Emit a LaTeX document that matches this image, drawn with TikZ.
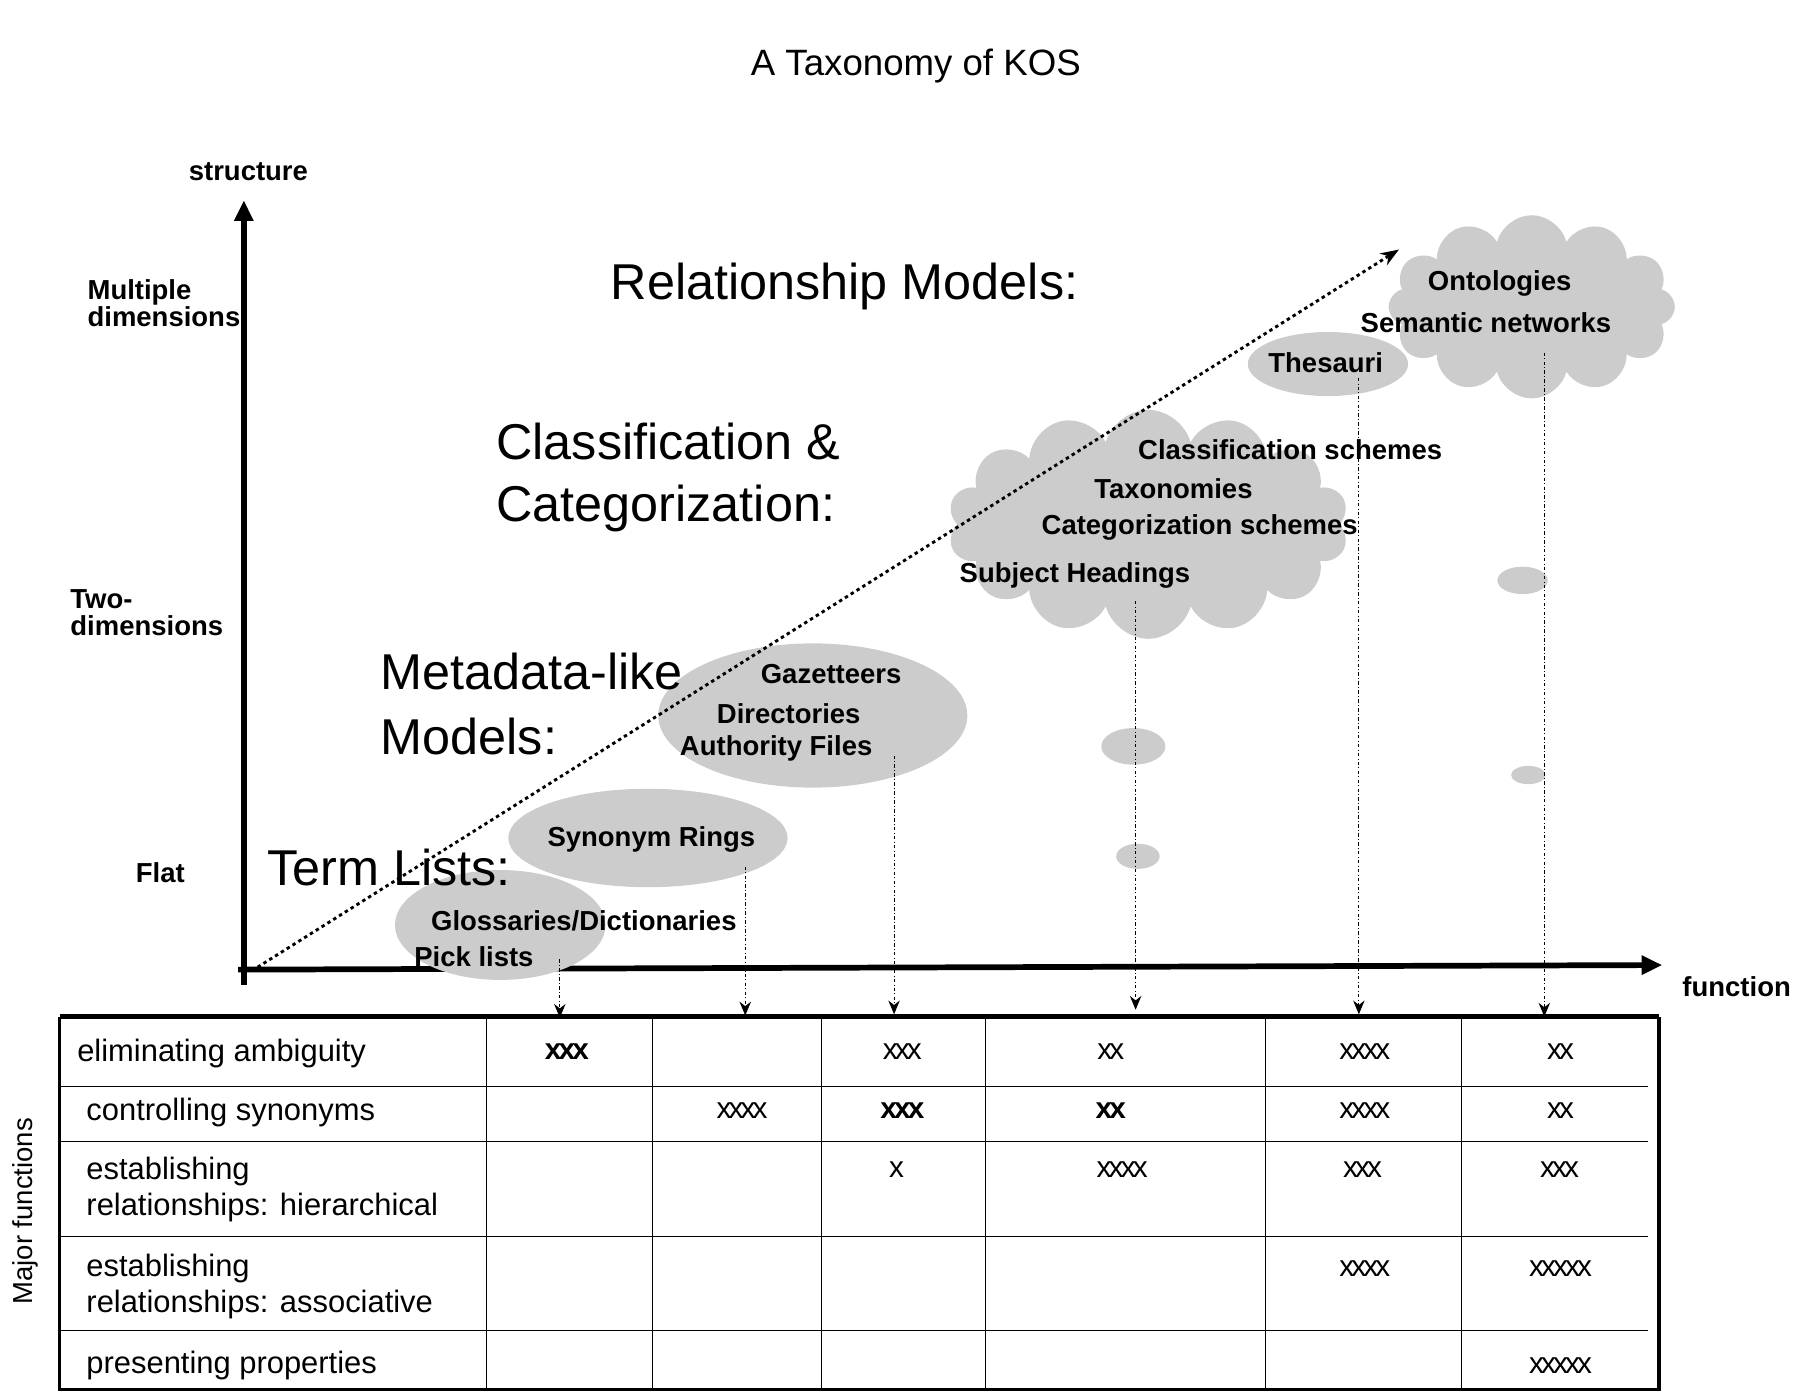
\documentclass[tikz,border=0pt]{standalone}
\usepackage{fontspec}
\setmainfont{Liberation Sans}
\usetikzlibrary{shapes.symbols,shapes.geometric,arrows.meta}
\newcommand{\fs}[1]{\fontsize{#1}{#1}\selectfont}
\newcommand{\xx}[1]{{\fs{26}\foreach \i in {1,...,#1}{x\kern-2.5pt}}}
\begin{document}
\begin{tikzpicture}[x=1pt,y=-1pt,
  blob/.style={ellipse,fill=gray!40,draw=none},
  lab/.style={font=\bfseries\fs{24}},
  big/.style={font=\fs{44},align=left,anchor=west},
  drop/.style={thick,dash dot,-{Stealth[length=12pt,width=10pt]}},
  rowlab/.style={font=\fs{27},anchor=west,align=left},
  cell/.style={font=\fs{26}}]
\useasboundingbox (0,0) rectangle (1568,1221);
\node[font=\fs{32}] (title) at (800,58) {A Taxonomy of KOS};
% axes
\coordinate (o) at (213,850);
\coordinate (ytop) at (213,175);
\coordinate (xend) at (1452,843);
\draw[line width=5pt,-{Triangle[length=18pt,width=16pt]}] (213,860) -- (ytop);
\draw[line width=5pt,-{Triangle[length=18pt,width=16pt]}] (208,847) -- (xend);
\node[lab] (st) at (217,150) {structure};
\node[lab,anchor=west,align=left] (md) at (73,265) {Multiple\\dimensions};
\node[lab,anchor=west,align=left] (td) at (58,535) {Two-\\dimensions};
\node[lab] (fl) at (140,762) {Flat};
\node[lab] (fn) at (1517,862) {function};
% shapes
\node[blob,minimum width=184,minimum height=96] (e1) at (437,808) {};
\node[blob,minimum width=244,minimum height=86] (e2) at (566,732) {};
\node[blob,minimum width=270,minimum height=126] (e3) at (710,625) {};
\node[blob,minimum width=140,minimum height=56] (e4) at (1160,318) {};
\node[cloud,cloud puffs=14,aspect=1.7,fill=gray!40,minimum width=350,minimum height=200] (c1) at (1003,458) {};
\node[cloud,cloud puffs=12,aspect=1.6,fill=gray!40,minimum width=250,minimum height=160] (c2) at (1338,268) {};
\node[blob,minimum width=56,minimum height=32] (b1) at (990,652) {};
\node[blob,minimum width=38,minimum height=22] (b2) at (994,748) {};
\node[blob,minimum width=44,minimum height=24] (b3) at (1330,507) {};
\node[blob,minimum width=30,minimum height=16] (b4) at (1335,677) {};
% dashed diagonal
\coordinate (dtop) at (1222,218);
\draw[line width=2.5pt,dashed,-{Stealth[length=16pt,width=12pt]}] (220,848) -- (dtop);
% big labels
\node[big] (rm) at (530,250) {Relationship Models:};
\node[big] (cc) at (430,417) {Classification \&\\[10pt]Categorization:};
\node[big] (mm) at (329,615) {Metadata-like\\[12pt]Models:};
\node[big] (tl) at (230,758) {Term Lists:};
% bold labels
\node[lab] (g1) at (510,804) {Glossaries/Dictionaries};
\node[lab] (g2) at (414,836) {Pick lists};
\node[lab] (sr) at (569,733) {Synonym Rings};
\node[lab] (gz) at (726,589) {Gazetteers};
\node[lab] (di) at (689,623) {Directories};
\node[lab] (af) at (678,654) {Authority Files};
\node[lab] (cs) at (1127,393) {Classification schemes};
\node[lab] (tx) at (1025,427) {Taxonomies};
\node[lab] (ca) at (1048,461) {Categorization schemes};
\node[lab] (sh) at (939,503) {Subject Headings};
\node[lab] (th) at (1158,317) {Thesauri};
\node[lab] (on) at (1310,248) {Ontologies};
\node[lab] (sn) at (1298,282) {Semantic networks};
% drop arrows
\coordinate (a1) at (489,889); \coordinate (a2) at (651,887); \coordinate (a3) at (781,886);
\coordinate (a4) at (992,882); \coordinate (a5) at (1187,886); \coordinate (a6) at (1349,888);
\draw[drop] (489,838) -- (a1);
\draw[drop] (651,757) -- (a2);
\draw[drop] (781,660) -- (a3);
\draw[drop] (992,525) -- (a4);
\draw[drop] (1187,330) -- (a5);
\draw[drop] (1349,308) -- (a6);
% table
\draw[line width=4pt] (52,888) -- (1449,888);
\draw[line width=3pt] (52,888) -- (52,1214) -- (1449,1214) -- (1449,888);
\foreach \x in {425,570,718,861,1105,1277} \draw[thick] (\x,888) -- (\x,1214);
\foreach \y in {949,997,1080,1162} \draw[thick] (52,\y) -- (1440,\y);
\node[font=\fs{24},rotate=90] (mf) at (22,1058) {Major functions};
\node[rowlab] (r1) at (64,920) {eliminating ambiguity};
\node[rowlab] (r2) at (72,972) {controlling synonyms};
\node[rowlab] (r3) at (72,1039) {establishing\\[4pt]relationships: hierarchical};
\node[rowlab] (r4) at (72,1124) {establishing\\[4pt]relationships: associative};
\node[rowlab] (r5) at (72,1193) {presenting properties};
\node[cell] at (494,919) {\textbf{\xx{3}}};
\node[cell] at (787,919) {\xx{3}};
\node[cell] at (969,919) {\xx{2}};
\node[cell] at (1191,919) {\xx{4}};
\node[cell] at (1362,919) {\xx{2}};
\node[cell] at (647,970) {\xx{4}};
\node[cell] at (787,970) {\textbf{\xx{3}}};
\node[cell] at (969,970) {\textbf{\xx{2}}};
\node[cell] at (1191,970) {\xx{4}};
\node[cell] at (1362,970) {\xx{2}};
\node[cell] at (782,1022) {\xx{1}};
\node[cell] at (979,1022) {\xx{4}};
\node[cell] at (1189,1022) {\xx{3}};
\node[cell] at (1361,1022) {\xx{3}};
\node[cell] at (1191,1108) {\xx{4}};
\node[cell] at (1362,1108) {\xx{5}};
\node[cell] at (1362,1193) {\xx{5}};
\end{tikzpicture}
\end{document}
